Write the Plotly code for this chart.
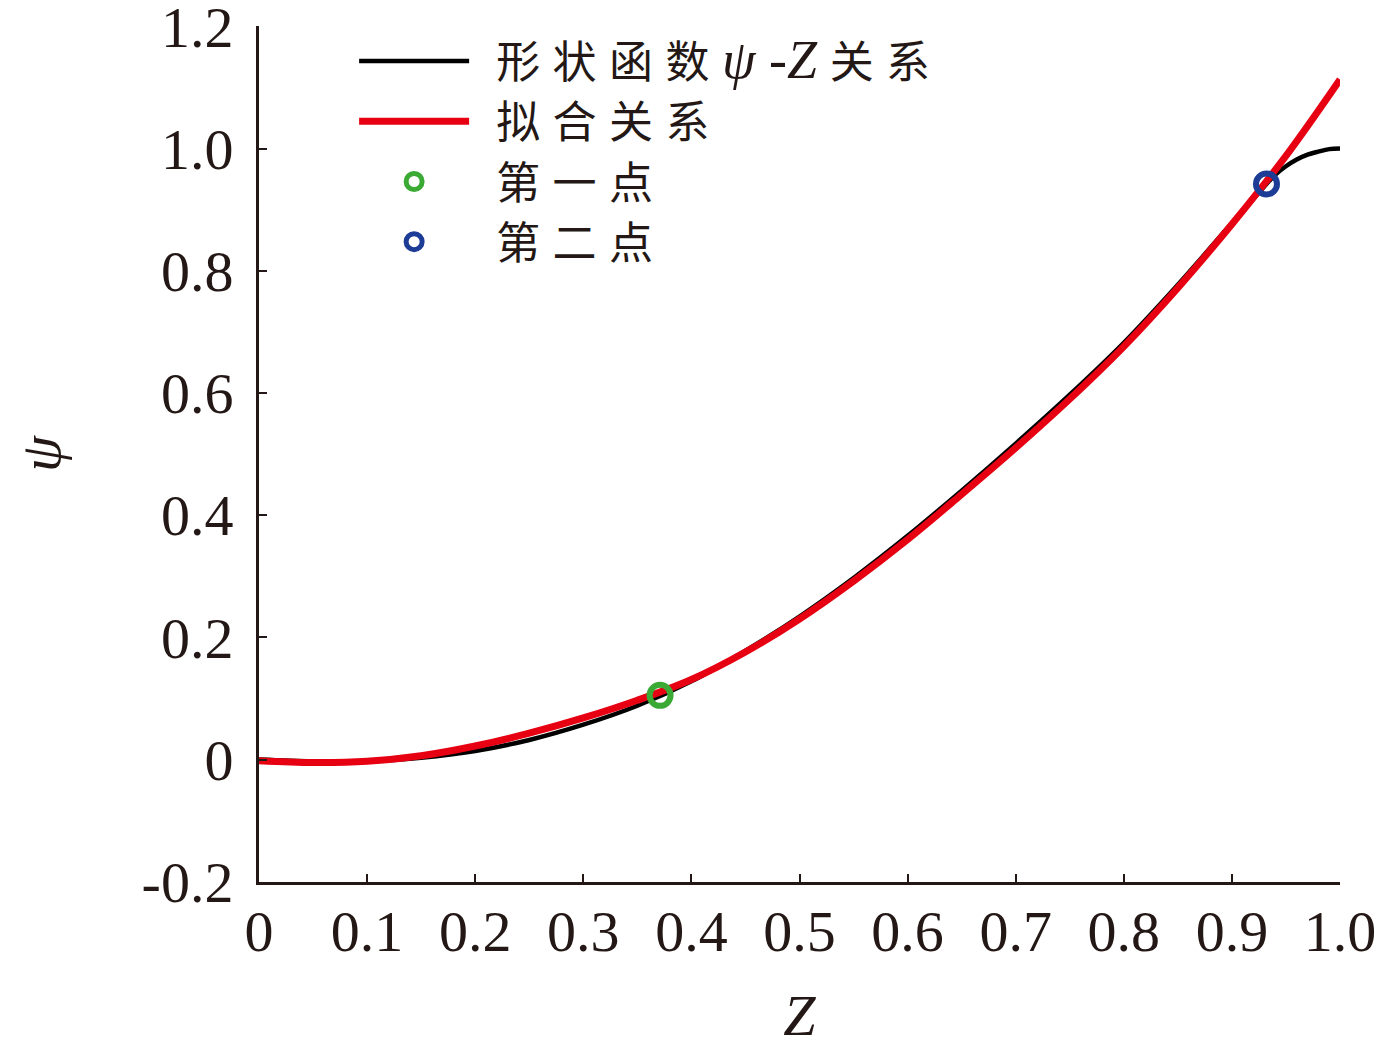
import plotly.graph_objects as go

# 形状函数 ψ-Z 曲线
z_shape = [0, 0.05, 0.1, 0.15, 0.2, 0.25, 0.3, 0.35, 0.4, 0.45, 0.5, 0.55, 0.6,
           0.65, 0.7, 0.75, 0.8, 0.85, 0.9, 0.93, 0.94, 0.95, 0.96, 0.97, 0.98, 0.99, 1.0]
psi_shape = [0, -0.003, -0.003, 0.003, 0.014, 0.032, 0.057, 0.088, 0.128, 0.178, 0.234, 0.297, 0.366,
             0.440, 0.517, 0.597, 0.682, 0.777, 0.878, 0.938, 0.957, 0.971, 0.982, 0.990, 0.995, 0.999, 1.0]

# 拟合关系
z_fit = [0, 0.05, 0.1, 0.15, 0.2, 0.25, 0.3, 0.35, 0.4, 0.45, 0.5, 0.55, 0.6,
         0.65, 0.7, 0.75, 0.8, 0.85, 0.9, 0.95, 1.0]
psi_fit = [-0.002, -0.005, -0.003, 0.006, 0.022, 0.043, 0.068, 0.097, 0.131, 0.176, 0.230, 0.292, 0.360,
           0.434, 0.510, 0.590, 0.676, 0.772, 0.876, 0.988, 1.113]

# 两个特征点
z_p1, psi_p1 = [0.371], [0.105]
z_p2, psi_p2 = [0.932], [0.942]

x_ticks = [0, 0.1, 0.2, 0.3, 0.4, 0.5, 0.6, 0.7, 0.8, 0.9, 1.0]
x_labels = ['0', '0.1', '0.2', '0.3', '0.4', '0.5', '0.6', '0.7', '0.8', '0.9', '1.0']
y_ticks = [-0.2, 0, 0.2, 0.4, 0.6, 0.8, 1.0, 1.2]
y_labels = ['-0.2', '0', '0.2', '0.4', '0.6', '0.8', '1.0', '1.2']

ink = '#231815'
serif = 'Liberation Serif, Times New Roman, serif'
cjk = 'Liberation Serif, Noto Sans CJK SC, serif'
sp = '\u2009\u200a'  # 字间距


def spaced(s):
    return sp.join(s)


psi_z = '<span style="font-size:54px"><i>ψ</i> -<i>Z</i></span>'

fig = go.Figure()
fig.add_trace(go.Scatter(x=z_shape, y=psi_shape, mode='lines', line=dict(color='black', width=4.5, shape='spline'),
                         name='  ' + spaced('形状函数') + sp + psi_z + sp + spaced('关系')))
fig.add_trace(go.Scatter(x=z_fit, y=psi_fit, mode='lines', line=dict(color='#e60012', width=7, shape='spline'),
                         name='  ' + spaced('拟合关系')))
fig.add_trace(go.Scatter(x=z_p1, y=psi_p1, mode='markers', name='  ' + spaced('第一点'),
                         marker=dict(symbol='circle-open', size=21, color='#3aaa35', line=dict(width=6))))
fig.add_trace(go.Scatter(x=z_p2, y=psi_p2, mode='markers', name='  ' + spaced('第二点'),
                         marker=dict(symbol='circle-open', size=21, color='#1d3c96', line=dict(width=6))))

fig.update_layout(
    width=1382, height=1046,
    paper_bgcolor='white', plot_bgcolor='white',
    margin=dict(l=251, r=50, t=18, b=172),
    font=dict(family=serif, size=58, color=ink),
    showlegend=True,
    legend=dict(x=0.088, y=1.0, xanchor='left', yanchor='top', bgcolor='rgba(0,0,0,0)',
                font=dict(family=cjk, size=44, color=ink), itemwidth=110, tracegroupgap=0),
)
fig.update_xaxes(range=[0, 1.0], tickvals=x_ticks, ticktext=x_labels, ticks='inside', ticklen=8,
                 tickwidth=2, tickcolor=ink, showline=True, linecolor=ink, linewidth=3,
                 showgrid=False, zeroline=False, ticklabelstandoff=-4, automargin=False,
                 ticklabeloverflow='allow',
                 title=dict(text='<i>Z</i>', font=dict(size=58), standoff=32))
fig.update_yaxes(range=[-0.2005, 1.2005], tickvals=y_ticks, ticktext=y_labels, ticks='inside', ticklen=8,
                 tickwidth=2, tickcolor=ink, showline=True, linecolor=ink, linewidth=3,
                 showgrid=False, zeroline=False, ticklabelstandoff=11, automargin=False,
                 ticklabeloverflow='allow',
                 title=dict(text='<i>ψ</i>', font=dict(size=58), standoff=86))

fig.write_html("out.html")
